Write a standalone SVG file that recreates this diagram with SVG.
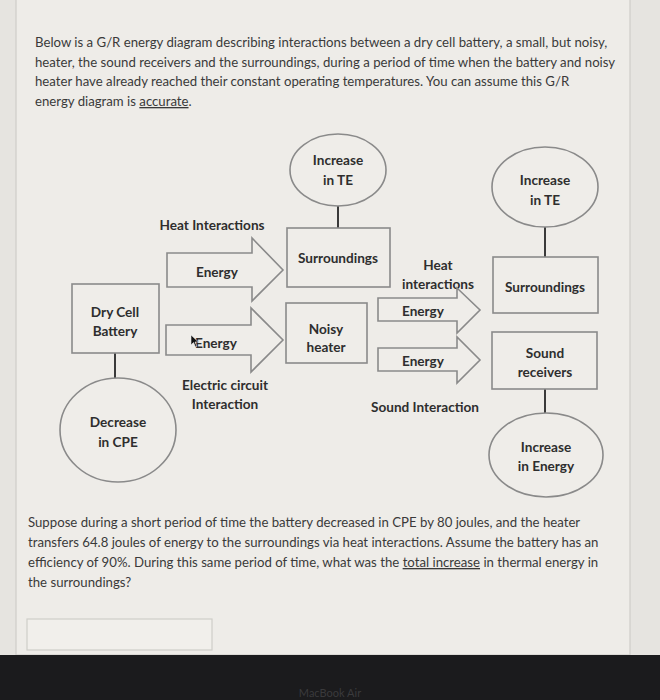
<svg xmlns="http://www.w3.org/2000/svg" width="660" height="700" viewBox="0 0 660 700">
<style>
.para{font-family:Lato,"Open Sans",sans-serif;font-size:13.2px;fill:#3a3a3a}
.lbl{font-family:Lato,"Open Sans",sans-serif;font-size:13.6px;fill:#2e2e2e;text-anchor:middle;font-weight:bold}
.shape{fill:#efede9;stroke:#8a8a8a;stroke-width:1.6}
.conn{stroke:#3a3a3a;stroke-width:2;fill:none}
</style>
<rect x="0" y="0" width="660" height="700" fill="#e6e4e0"/>
<rect x="16" y="-2" width="614" height="657" fill="#eeece8" stroke="#cfcdc9" stroke-width="1.2"/>
<g id="intro">
<text class="para" x="35" y="47">Below is a G/R energy diagram describing interactions between a dry cell battery, a small, but noisy,</text>
<text class="para" x="35" y="67">heater, the sound receivers and the surroundings, during a period of time when the battery and noisy</text>
<text class="para" x="35" y="86">heater have already reached their constant operating temperatures.  You can assume this G/R</text>
<text class="para" x="35" y="106">energy diagram is <tspan text-decoration="underline">accurate</tspan>.</text>
</g>
<g id="connectors">
<line class="conn" x1="338" y1="206" x2="338" y2="228"/>
<line class="conn" x1="545" y1="227" x2="545" y2="257"/>
<line class="conn" x1="115" y1="353" x2="115" y2="378"/>
<line class="conn" x1="545" y1="389" x2="545" y2="413"/>
</g>
<g id="te-top">
<ellipse class="shape" cx="338" cy="170" rx="48" ry="36"/>
<text class="lbl" x="338" y="165">Increase</text>
<text class="lbl" x="338" y="185">in TE</text>
</g>
<g id="surroundings-top">
<rect class="shape" x="287" y="228" width="103" height="59"/>
<text class="lbl" x="338" y="263">Surroundings</text>
</g>
<g id="te-right">
<ellipse class="shape" cx="545" cy="187" rx="53" ry="40"/>
<text class="lbl" x="545" y="185">Increase</text>
<text class="lbl" x="545" y="205">in TE</text>
</g>
<g id="surroundings-right">
<rect class="shape" x="493" y="257" width="105" height="56"/>
<text class="lbl" x="545" y="292">Surroundings</text>
</g>
<g id="heat-label">
<text class="lbl" x="212" y="230">Heat Interactions</text>
</g>
<g id="arrow-heat-left">
<polygon class="shape" points="167,253 252,253 252,238 283,270 252,301 252,287 167,287"/>
<text class="lbl" x="217" y="277">Energy</text>
</g>
<g id="battery">
<rect class="shape" x="72" y="284" width="87" height="69"/>
<text class="lbl" x="115" y="317">Dry Cell</text>
<text class="lbl" x="115" y="336">Battery</text>
</g>
<g id="cpe">
<ellipse class="shape" cx="118" cy="430" rx="58" ry="52"/>
<text class="lbl" x="118" y="427">Decrease</text>
<text class="lbl" x="118" y="447">in CPE</text>
</g>
<g id="arrow-electric">
<polygon class="shape" points="166,325 251,325 251,308 283,340 251,372 251,355 166,355"/>
<text class="lbl" x="216" y="348">Energy</text>
<path d="M191,335 L191,345 L193.5,342.5 L195.5,347 L197,346.3 L195,342 L198.5,342 Z" fill="#111" stroke="#eee" stroke-width="0.6"/>
<text class="lbl" x="225" y="390">Electric circuit</text>
<text class="lbl" x="225" y="409">Interaction</text>
</g>
<g id="heater">
<rect class="shape" x="286" y="303" width="81" height="60"/>
<text class="lbl" x="326" y="334">Noisy</text>
<text class="lbl" x="326" y="352">heater</text>
</g>
<g id="heat-right-label">
<text class="lbl" x="438" y="270">Heat</text>
<text class="lbl" x="438" y="289">interactions</text>
</g>
<g id="arrow-heat-right">
<polygon class="shape" points="378,298 457,298 457,288 480,310 457,333 457,321 378,321"/>
<text class="lbl" x="423" y="316">Energy</text>
</g>
<g id="arrow-sound">
<polygon class="shape" points="378,348 457,348 457,337 480,360 457,383 457,371 378,371"/>
<text class="lbl" x="423" y="366">Energy</text>
<text class="lbl" x="425" y="412">Sound Interaction</text>
</g>
<g id="receivers">
<rect class="shape" x="492" y="332" width="105" height="57"/>
<text class="lbl" x="545" y="358">Sound</text>
<text class="lbl" x="545" y="377">receivers</text>
</g>
<g id="energy-increase">
<ellipse class="shape" cx="546" cy="455" rx="57" ry="42"/>
<text class="lbl" x="546" y="452">Increase</text>
<text class="lbl" x="546" y="471">in Energy</text>
</g>
<g id="question">
<text class="para" x="28" y="527">Suppose during a short period of time the battery decreased in CPE by 80 joules, and the heater</text>
<text class="para" x="28" y="547">transfers 64.8 joules of energy to the surroundings via heat interactions. Assume the battery has an</text>
<text class="para" x="28" y="567">efficiency of 90%.  During this same period of time, what was the <tspan text-decoration="underline">total increase</tspan> in thermal energy in</text>
<text class="para" x="28" y="587">the surroundings?</text>
</g>
<rect x="27" y="619" width="185" height="31" fill="#f1efeb" stroke="#cfcdc9" stroke-width="1.2"/>
<rect x="0" y="655" width="660" height="45" fill="#1b1b1d"/>
<text x="330" y="697" text-anchor="middle" font-family="Lato,sans-serif" font-size="11" fill="#3a3a3c">MacBook Air</text>
</svg>
